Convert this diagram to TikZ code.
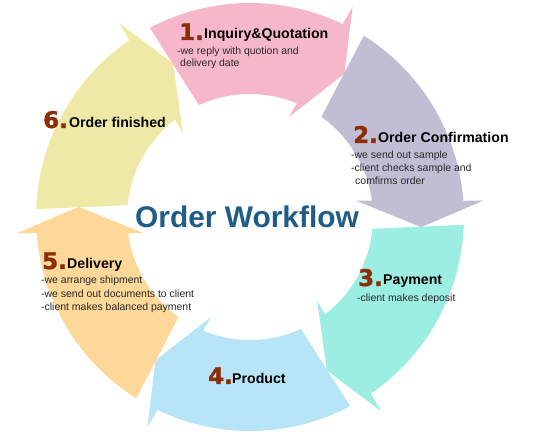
\documentclass[tikz,border=0pt]{standalone}
\usepackage{fontspec}
\setmainfont{Liberation Sans}
\newfontfamily\numfont{DejaVu Sans Bold}[FakeBold=1.5]
\definecolor{c1}{RGB}{247,183,203}
\definecolor{c2}{RGB}{193,190,212}
\definecolor{c3}{RGB}{156,237,226}
\definecolor{c4}{RGB}{184,228,248}
\definecolor{c5}{RGB}{254,216,152}
\definecolor{c6}{RGB}{238,233,166}
\definecolor{numcol}{RGB}{140,46,8}
\definecolor{titlecol}{RGB}{31,92,135}
\definecolor{desccol}{RGB}{40,40,40}
\begin{document}
\begin{tikzpicture}[x=1bp,y=1bp,
  numtxt/.style={anchor=base west, inner sep=0pt, font=\numfont\fontsize{23}{23}\selectfont, text=numcol},
  ttl/.style={anchor=base west, inner sep=0pt, font=\bfseries\fontsize{14.2}{16}\selectfont, text=black},
  desc/.style={anchor=base west, inner sep=0pt, font=\fontsize{10.5}{12}\selectfont, text=desccol},
  bigtitle/.style={anchor=base west, inner sep=0pt, font=\bfseries\fontsize{30}{32}\selectfont, text=titlecol}]
\useasboundingbox (0,0) rectangle (538,437);
\coordinate (C) at (250,220);
\foreach \k/\col in {0/c1,1/c2,2/c3,3/c4,4/c5,5/c6} {
  \pgfmathsetmacro\p{-60*\k}
  \fill[\col, shift={(C)}, rotate=\p]
    (117.9:214bp) arc[start angle=117.9, end angle=64.35, radius=214bp]
    -- (64:234bp) -- (56.6:171.6bp) -- (68.7:107.4bp) -- (67.6:123bp)
    arc[start angle=67.6, end angle=114.5, radius=123bp] -- cycle;
}
% title
\node[bigtitle] (title) at (135,209) {Order Workflow};
% 1
\node[numtxt] (n1) at (179,397) {1.};
\node[ttl] (t1) at (204,398) {Inquiry\&Quotation};
\node[desc] (d1a) at (177,382) {-we reply with quotion and};
\node[desc] (d1b) at (180,370) {delivery date};
% 2
\node[numtxt] (n2) at (353,294) {2.};
\node[ttl] (t2) at (378,294) {Order Confirmation};
\node[desc] (d2a) at (351,278) {-we send out sample};
\node[desc] (d2b) at (351,265) {-client checks sample and};
\node[desc] (d2c) at (355,252) {comfirms order};
% 3
\node[numtxt] (n3) at (358,151) {3.};
\node[ttl] (t3) at (383,152) {Payment};
\node[desc] (d3a) at (357,135) {-client makes deposit};
% 4
\node[numtxt] (n4) at (208,53) {4.};
\node[ttl] (t4) at (232,53) {Product};
% 5
\node[numtxt] (n5) at (42,168) {5.};
\node[ttl] (t5) at (67,168) {Delivery};
\node[desc] (d5a) at (41,153) {-we arrange shipment};
\node[desc] (d5b) at (41,139) {-we send out documents to client};
\node[desc] (d5c) at (41,126) {-client makes balanced payment};
% 6
\node[numtxt] (n6) at (43,309) {6.};
\node[ttl] (t6) at (69,309) {Order finished};
\end{tikzpicture}
\end{document}
